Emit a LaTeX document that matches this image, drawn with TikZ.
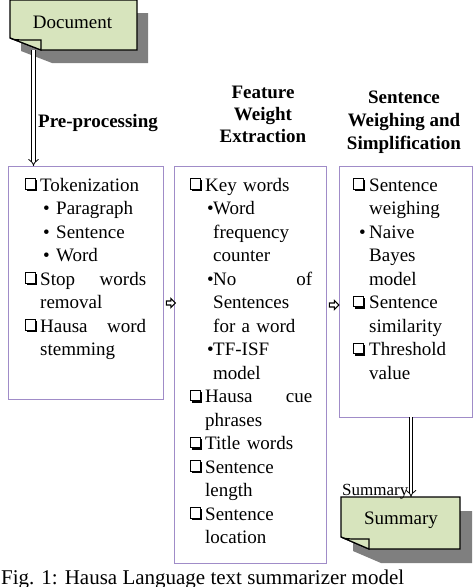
\documentclass[tikz,border=0pt]{standalone}
\usepackage{fontspec}
\setmainfont{Liberation Serif}
\usetikzlibrary{arrows.meta}
\definecolor{boxpurple}{HTML}{A08CC8}
\definecolor{docgreen}{HTML}{D7E4BD}
\definecolor{shadowgray}{HTML}{7F7F7F}
\newcommand\qbox{\tikz[x=1pt,y=1pt,baseline=0pt]{\fill[black] (2,0) rectangle (12,11);\draw[fill=white,line width=0.9pt] (0.5,1.8) rectangle (10.2,12.6);}}
\newcommand\qb[1][15pt]{\makebox[#1][l]{\qbox}}
\begin{document}
\begin{tikzpicture}[x=1pt,y=-1pt,
  txt/.style={font=\fontsize{19}{23.5}\selectfont, inner sep=0pt, anchor=north west, align=left},
  panel/.style={draw=boxpurple, line width=1.3pt, inner sep=0pt, anchor=north west},
  head/.style={inner sep=0pt, align=center, anchor=north},
  link/.style={double, double distance=2.8pt, line width=0.8pt, -{Implies}},
  blockarrow/.style={draw=black, fill=white, line width=1.1pt, line join=miter},
  docshape/.style={fill=docgreen, draw=black, line width=1.2pt, line join=miter},
  shadow/.style={fill=shadowgray},
  ]
\useasboundingbox (0,0) rectangle (474,587);

% ---------- Document shape ----------
\fill[shadow] (21,13) -- (148,13) -- (148,63) -- (52,63) -- (21,51) -- cycle;
\draw[docshape] (10,0) -- (137,0) -- (137,50) -- (41,50) -- (10,38) -- cycle;
\draw[docshape] (10,38) .. controls (14,40) .. (41,40) -- (41,50) -- cycle;
\node[font=\fontsize{19}{22}\selectfont, inner sep=0pt, anchor=base] (doc) at (72.5,28) {Document};

% ---------- Headings ----------
\node[font=\fontsize{19}{22}\selectfont\bfseries, inner sep=0pt, anchor=base west] (h1) at (38,127) {Pre-processing};
\node[head, font=\fontsize{19}{22}\selectfont\bfseries] (h2) at (263,82.6) {\strut Feature\\Weight\\Extraction};
\node[head, font=\fontsize{19}{23}\selectfont\bfseries] (h3) at (404,86.9) {\strut Sentence\\Weighing and\\Simplification};

% ---------- Panels ----------
\node[panel, minimum width=155pt, minimum height=233pt] (b1) at (8,166) {};
\node[panel, minimum width=152pt, minimum height=397pt] (b2) at (174,166) {};
\node[panel, minimum width=133pt, minimum height=251pt] (b3) at (339,166) {};

\node[txt, text width=121pt] (t1) at (25,174.55) {\strut\qb Tokenization\\
\hspace*{18pt}\makebox[13pt][l]{•}Paragraph\\
\hspace*{18pt}\makebox[13pt][l]{•}Sentence\\
\hspace*{18pt}\makebox[13pt][l]{•}Word\\
\qb Stop\hfill words\\
\hspace*{15pt}removal\\
\qb Hausa\hfill word\\
\hspace*{15pt}stemming};

\node[txt, text width=122pt] (t2) at (190,174.55) {\strut\qb Key words\\
\hspace*{17pt}\makebox[6pt][l]{•}Word\\
\hspace*{23pt}frequency\\
\hspace*{23pt}counter\\
\hspace*{17pt}\makebox[6pt][l]{•}No\hfill of\\
\hspace*{23pt}Sentences\\
\hspace*{23pt}for a word\\
\hspace*{17pt}\makebox[6pt][l]{•}TF-ISF\\
\hspace*{23pt}model\\
\qb Hausa\hfill cue\\
\hspace*{15pt}phrases\\
\qb Title words\\
\qb Sentence\\
\hspace*{15pt}length\\
\qb Sentence\\
\hspace*{15pt}location};

\node[txt, text width=100pt] (t3) at (353,174.55) {\strut\qb[16pt]Sentence\\
\hspace*{16pt}weighing\\
\hspace*{6pt}\makebox[10pt][l]{•}Naive\\
\hspace*{16pt}Bayes\\
\hspace*{16pt}model\\
\qb[16pt]Sentence\\
\hspace*{16pt}similarity\\
\qb[16pt]Threshold\\
\hspace*{16pt}value};

% ---------- Summary shape ----------
\fill[shadow] (353,511) -- (472,511) -- (472,563) -- (381,563) -- (353,551) -- cycle;
\draw[docshape] (341,497) -- (460,497) -- (460,549) -- (369,549) -- (341,537) -- cycle;
\draw[docshape] (341,537) .. controls (345,539) .. (369,539) -- (369,549) -- cycle;
\node[font=\fontsize{19}{22}\selectfont, inner sep=0pt, anchor=base] (sum) at (401,524) {Summary};
\node[font=\fontsize{17}{20}\selectfont, inner sep=0pt, anchor=base west] (sumcap) at (342,495) {Summary};

% ---------- Connectors ----------
\coordinate (a1) at (33.5,50);
\draw[link] (a1) -- (a1 |- b1.north);
\draw[blockarrow] (b1.east |- 0,303) ++(2,-2) -- ++(4.5,0) -- ++(0,-2.5) -- ++(4.5,4.5) -- ++(-4.5,4.5) -- ++(0,-2.5) -- ++(-4.5,0) -- cycle;
\draw[blockarrow] (b2.east |- 0,305) ++(2,-2) -- ++(5,0) -- ++(0,-2.5) -- ++(4.5,4.5) -- ++(-4.5,4.5) -- ++(0,-2.5) -- ++(-5,0) -- cycle;
\coordinate (a2) at (411,417);
\draw[link] (a2) -- (a2 |- 0,497);

% ---------- Caption ----------
\node[font=\fontsize{21}{24}\selectfont, inner sep=0pt, anchor=base west] (cap) at (1,584) {Fig. 1: Hausa Language text summarizer model};
\end{tikzpicture}
\end{document}
